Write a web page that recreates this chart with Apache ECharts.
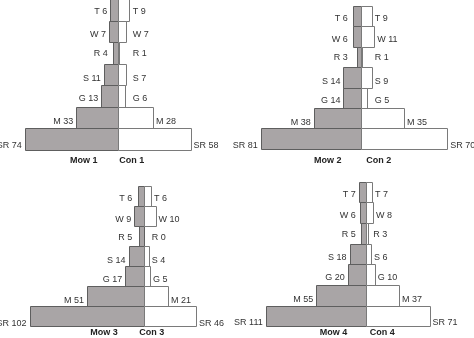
<!DOCTYPE html>
<html><head><meta charset="utf-8">
<script src="https://cdn.jsdelivr.net/npm/echarts@6/dist/echarts.min.js"></script>
<style>html,body{margin:0;padding:0;background:#fff}#c{width:474px;height:338px}</style>
</head><body><div id="c"></div>
<script>
// ---- data ----
const levels = ['T', 'W', 'R', 'S', 'G', 'M', 'SR'];
const mow1 = [6, 7, 4, 11, 13, 33, 74];
const con1 = [9, 7, 1, 7, 6, 28, 58];
const mow2 = [6, 6, 3, 14, 14, 38, 81];
const con2 = [9, 11, 1, 9, 5, 35, 70];
const mow3 = [6, 9, 5, 14, 17, 51, 102];
const con3 = [6, 10, 0, 4, 5, 21, 46];
const mow4 = [7, 6, 5, 18, 20, 55, 111];
const con4 = [7, 8, 3, 6, 10, 37, 71];
const leftNames = ['Mow 1', 'Mow 2', 'Mow 3', 'Mow 4'];
const rightNames = ['Con 1', 'Con 2', 'Con 3', 'Con 4'];

// ---- layout / style ----
const layout = [
  { cx: 117.7, scale: 1.257, range: 90,  top: -1,    height: 150.7, ty: 161, ml: -27.7, mr: 21.6, minL: 10, minR: 15 },
  { cx: 360.7, scale: 1.235, range: 90,  top: 6,     height: 142.7, ty: 161, ml: -26.7, mr: 25.6, minL: 13, minR: 14 },
  { cx: 144.3, scale: 1.125, range: 105, top: 186.3, height: 140,   ty: 333, ml: -34,   mr: 15,   minL: 12, minR: 7.5 },
  { cx: 365.7, scale: 0.9,   range: 120, top: 181.7, height: 144.6, ty: 333, ml: -26,   mr: 24,   minL: 10, minR: 7.5 }
];
const rowDy = [2, 3, 1, 4, 3, 4, 7];
const gap = 3;
const FONT = '"Liberation Sans", Arial, sans-serif';
const mows = [mow1, mow2, mow3, mow4];
const cons = [con1, con2, con3, con4];

function makeRender(vals, side, L, fill, stroke) {
  return function (params, api) {
    const k = api.value(1);
    const v = vals[k];
    const p0 = api.coord([0, k]);
    const p1 = api.coord([side * v, k]);
    const h = api.size([1, 1])[1];
    const yTop = Math.round(p0[1] - h / 2) + 0.5;
    const yBot = Math.round(p0[1] + h / 2) + 0.5;
    const xa = Math.round(Math.min(p0[0], p1[0])) + 0.5;
    const xb = Math.round(Math.max(p0[0], p1[0])) + 0.5;
    const barPx = Math.abs(p1[0] - p0[0]);
    const off = Math.max(barPx + gap, side < 0 ? L.minL : L.minR);
    const children = [];
    if (v > 0) {
      children.push({ type: 'rect', shape: { x: xa, y: yTop, width: xb - xa, height: yBot - yTop },
        style: { fill: fill, stroke: stroke, lineWidth: 1 } });
    }
    children.push({ type: 'text', x: p0[0] + side * off, y: p0[1] + rowDy[k],
      style: { text: levels[k] + ' ' + v, align: side < 0 ? 'right' : 'left', verticalAlign: 'middle',
        font: '9px ' + FONT, fill: '#333' } });
    return { type: 'group', children };
  };
}

const grid = [], xAxis = [], yAxis = [], series = [], graphic = [];
layout.forEach((L, i) => {
  const w = 2 * L.range * L.scale;
  grid.push({ left: L.cx - L.range * L.scale, top: L.top, width: w, height: L.height, outerBoundsMode: 'none' });
  xAxis.push({ gridIndex: i, type: 'value', min: -L.range, max: L.range, show: false });
  yAxis.push({ gridIndex: i, type: 'category', data: levels, inverse: true, show: false });
  const mow = mows[i], con = cons[i];
  series.push({
    type: 'custom', xAxisIndex: i, yAxisIndex: i, silent: true,
    encode: { x: 0, y: 1 },
    data: mow.map((v, k) => [-v, k]),
    renderItem: makeRender(mow, -1, L, '#a9a5a6', '#5e5e5e')
  });
  series.push({
    type: 'custom', xAxisIndex: i, yAxisIndex: i, silent: true,
    encode: { x: 0, y: 1 },
    data: con.map((v, k) => [v, k]),
    renderItem: makeRender(con, 1, L, '#ffffff', '#7a7a7a')
  });
  graphic.push({ type: 'text', left: L.cx + L.ml - 20, top: L.ty - 5, style: { text: leftNames[i], width: 40, align: 'center', font: 'bold 9px ' + FONT, fill: '#222' } });
  graphic.push({ type: 'text', left: L.cx + L.mr - 20, top: L.ty - 5, style: { text: rightNames[i], width: 40, align: 'center', font: 'bold 9px ' + FONT, fill: '#222' } });
});

const chart = echarts.init(document.getElementById('c'), null, { renderer: 'canvas' });
chart.setOption({ animation: false, backgroundColor: '#fff', grid, xAxis, yAxis, series, graphic });
</script></body></html>
